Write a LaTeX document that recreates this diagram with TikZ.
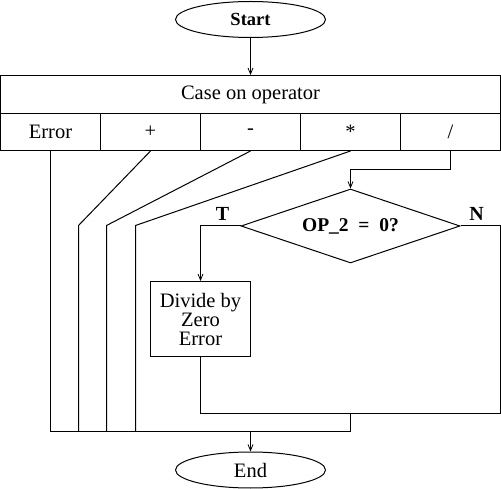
\documentclass[tikz,border=0pt]{standalone}
\usepackage{fontspec}
\setmainfont{Liberation Serif}
\usetikzlibrary{shapes.geometric,arrows.meta}
\tikzset{
  every node/.style={font=\fontsize{20.5}{19}\selectfont},
  line/.style={line width=1pt},
  arr/.style={line width=1pt,-{Straight Barb[length=6pt,width=5pt,line width=0.8pt]}},
  term/.style={ellipse,draw,line width=1pt,minimum width=150pt,minimum height=36pt,inner sep=0pt},
  cell/.style={rectangle,draw,line width=1pt,minimum width=100pt,minimum height=37pt,inner sep=0pt},
  headbox/.style={rectangle,draw,line width=1pt,minimum width=500pt,minimum height=38pt,inner sep=0pt},
  decision/.style={diamond,draw,line width=1pt,minimum width=219pt,minimum height=74pt,aspect=2.96,inner sep=0pt},
  procbox/.style={rectangle,draw,line width=1pt,minimum width=100pt,minimum height=75pt,inner sep=0pt,align=center},
  branchlabel/.style={font=\fontsize{20}{22}\selectfont\bfseries}
}
\begin{document}
\begin{tikzpicture}[x=1pt,y=-1pt]
\useasboundingbox (-0.5,-0.5) rectangle (500.5,488.5);
\node[term,font=\fontsize{18.5}{22}\selectfont\bfseries] (start) at (250,19) {Start};
\node[headbox] (case) at (250,94) {Case on operator};
\node[cell] (err) at (50,131.5) {Error};
\node[cell] (plus) at (150,131.5) {+};
\node[cell] (minus) at (250,131.5) {\raisebox{-2pt}{-}};
\node[cell] (star) at (350,131.5) {*};
\node[cell] (slash) at (450,131.5) {/};
\node[decision,font=\fontsize{19.5}{22}\selectfont\bfseries] (dia) at (350,225.5) {OP\_2 \ = \ 0?};
\node[procbox] (div) at (200,318.5) {Divide by\\Zero\\Error};
\node[term] (end) at (250,469.5) {End};
\node[branchlabel] (tl) at (222,213) {T};
\node[branchlabel] (nl) at (476,213) {N};

\coordinate (j0) at (50,431);
\coordinate (jp1) at (78,225);
\coordinate (jp2) at (78,431);
\coordinate (jm1) at (106,225);
\coordinate (jm2) at (106,431);
\coordinate (js1) at (135,225);
\coordinate (js2) at (135,431);
\coordinate (jr) at (350,431);
\coordinate (jmid) at (250,431);
\coordinate (jd1) at (450,169);
\coordinate (jd2) at (350,169);
\coordinate (jt) at (200,225.5);
\coordinate (jn1) at (500,225.5);
\coordinate (jn2) at (500,413);
\coordinate (jb) at (200,413);
\coordinate (jc) at (350,413);

\draw[arr] (start.south) -- (case.north);
\draw[line] (err.south) -- (j0);
\draw[line] (plus.south) -- (jp1) -- (jp2);
\draw[line] (minus.south) -- (jm1) -- (jm2);
\draw[line] (star.south) -- (js1) -- (js2);
\draw[arr] (slash.south) -- (jd1) -- (jd2) -- (dia.north);
\draw[arr] (dia.west) -- (jt) -- (div.north);
\draw[line] (dia.east) -- (jn1) -- (jn2) -- (jb) -- (div.south);
\draw[line] (jc) -- (jr);
\draw[line] (j0) -- (jr);
\draw[arr] (jmid) -- (end.north);
\end{tikzpicture}
\end{document}
